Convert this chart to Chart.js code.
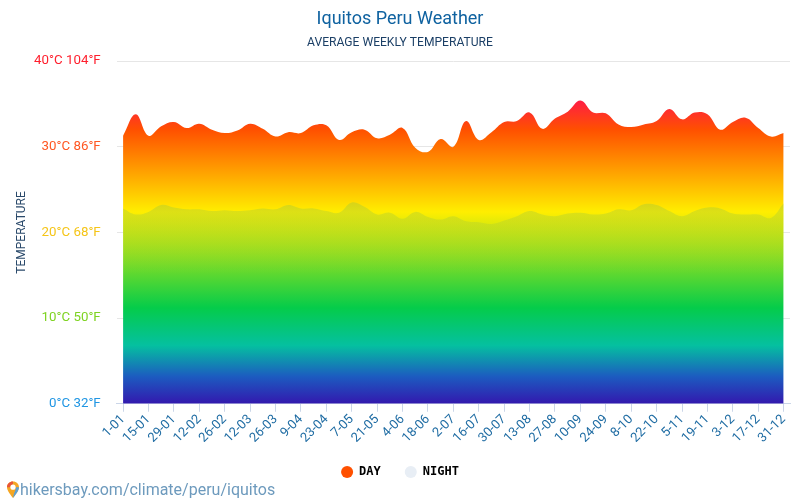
<!DOCTYPE html>
<html>
<head>
<meta charset="utf-8">
<script src="https://cdn.jsdelivr.net/npm/chart.js@4"></script>
<style>
html,body{margin:0;padding:0;background:#fff;overflow:hidden}
#wrap{position:relative;width:800px;height:500px}
#footer{position:absolute;left:20px;top:480px;font:16px Roboto,sans-serif;color:#6d9abd;line-height:20px;white-space:nowrap}
#pin{position:absolute;left:6px;top:481px}
</style>
</head>
<body>
<div id="wrap">
<canvas id="myChart" width="800" height="500"></canvas>
<svg id="pin" width="14" height="18" viewBox="0 0 14 18"><path d="M7 0.5C3.4 0.5 1 3 1 6.2 1 10 5 14 7 17 9 14 13 10 13 6.2 13 3 10.6 0.5 7 0.5Z" fill="#f5a623"/><path d="M1 6.2C1 3 3.4 .5 7 .5L7 3.5C5.4 3.5 4 4.7 4 6.2Z" fill="#e8553a"/><circle cx="7" cy="6.2" r="2.6" fill="#fff"/><path d="M7 17C9 14 13 10 13 6.2L10 6.2C10 9 8 11 7 17Z" fill="#5aa0d8"/></svg>
<div id="footer">hikersbay.com/climate/peru/iquitos</div>
</div>
<script>
const weeks = ['1-01','8-01','15-01','22-01','29-01','5-02','12-02','19-02','26-02','5-03','12-03','19-03','26-03','2-04','9-04','16-04','23-04','30-04','7-05','14-05','21-05','28-05','4-06','11-06','18-06','25-06','2-07','9-07','16-07','23-07','30-07','6-08','13-08','20-08','27-08','3-09','10-09','17-09','24-09','1-10','8-10','15-10','22-10','29-10','5-11','12-11','19-11','26-11','3-12','10-12','17-12','24-12','31-12'];
const dayTemps = [31.3,33.8,31.3,32.4,32.9,32.2,32.7,32.0,31.6,31.9,32.7,32.1,31.2,31.7,31.6,32.5,32.5,30.8,31.7,32.0,31.0,31.4,32.2,29.9,29.4,30.9,30.0,33.0,30.8,31.7,32.9,33.0,34.0,32.1,33.3,34.1,35.4,34.0,33.9,32.6,32.3,32.6,33.0,34.4,33.2,34.0,33.8,32.0,32.9,33.4,32.2,31.2,31.6];
const nightTemps = [22.8,22.1,22.4,23.2,22.9,22.7,22.7,22.5,22.6,22.5,22.6,22.8,22.7,23.2,22.8,22.8,22.5,22.3,23.5,23.0,22.1,22.3,21.6,22.4,21.8,21.5,21.9,21.3,21.2,21.0,21.4,21.9,22.5,22.1,21.9,22.2,22.3,22.1,22.2,22.7,22.6,23.3,23.2,22.5,21.9,22.5,22.9,22.8,22.2,22.1,22.1,21.7,23.4];
const yLabels = {0:'0°C 32°F',10:'10°C 50°F',20:'20°C 68°F',30:'30°C 86°F',40:'40°C 104°F'};
const yColors = {0:'#2196e3',10:'#7ed321',20:'#f5c518',30:'#ff5722',40:'#ff1f2d'};

// rainbow from top of the axis (40) to the bottom (0)
function rainbow(chart){
	const a = chart.chartArea;
	const g = chart.ctx.createLinearGradient(0, a.top, 0, a.bottom);
	g.addColorStop(0, '#ff0a60');
	g.addColorStop(0.12, '#ff2040');
	g.addColorStop(0.2, '#ff5000');
	g.addColorStop(0.44, '#ffee00');
	g.addColorStop(0.72, '#05cc4a');
	g.addColorStop(0.83, '#05c0a0');
	g.addColorStop(0.92, '#1c5cc0');
	g.addColorStop(1, '#3318ae');
	return g;
}

// night only tints the top of its area, then fades out
function nightFade(chart){
	const a = chart.chartArea;
	const g = chart.ctx.createLinearGradient(0, a.top, 0, a.bottom);
	g.addColorStop(0.42, 'rgba(160,200,60,0.4)');
	g.addColorStop(0.62, 'rgba(160,200,60,0)');
	return g;
}

const myChart = new Chart(document.getElementById('myChart'), {
	type: 'line',
	data: {
		labels: weeks,
		datasets: [{
			label: 'DAY',
			data: dayTemps,
			order: 2,
			fill: 'origin',
			borderWidth: 0,
			pointRadius: 0,
			tension: 0.4,
			backgroundColor: c => c.chart.chartArea ? rainbow(c.chart) : '#ff5000'
		},{
			label: 'NIGHT',
			data: nightTemps,
			order: 1,
			fill: 'origin',
			borderWidth: 0,
			pointRadius: 0,
			tension: 0.4,
			backgroundColor: c => c.chart.chartArea ? nightFade(c.chart) : '#e8eef5'
		}]
	},
	options: {
		responsive: false,
		animation: false,
		layout: {padding: {left: 10, right: 10, top: 8, bottom: 12}},
		plugins: {
			title: {display: true, text: 'Iquitos Peru Weather', color: '#0f62a0', font: {family: 'Roboto', size: 18, weight: 'normal'}, padding: {top: 1, bottom: 5}},
			subtitle: {display: true, text: 'AVERAGE WEEKLY TEMPERATURE', color: '#1b3f66', font: {family: 'Roboto', size: 12.1}, padding: {bottom: 11}},
			legend: {
				position: 'bottom',
				labels: {
					usePointStyle: true,
					pointStyle: 'circle',
					boxWidth: 12,
					boxHeight: 8.5,
					padding: 24,
					color: '#1f3350',
					font: {family: 'DejaVu Sans Mono', size: 12, weight: 'bold'},
					generateLabels: () => [
						{text: 'DAY', fillStyle: '#ff5000', strokeStyle: '#ff5000', pointStyle: 'circle', lineWidth: 0, datasetIndex: 0},
						{text: 'NIGHT', fillStyle: '#e8eef5', strokeStyle: '#e8eef5', pointStyle: 'circle', lineWidth: 0, datasetIndex: 1}
					]
				}
			},
			tooltip: {enabled: false}
		},
		scales: {
			x: {
				offset: true,
				afterBuildTicks: axis => { axis.ticks = axis.ticks.filter((t, i) => i % 2 == 0); },
				afterFit: s => { s.height -= 4; },
				grid: {offset: false, drawOnChartArea: false, drawTicks: true, tickLength: 8, color: '#cbd6e8'},
				border: {color: '#cbd6e8'},
				ticks: {autoSkip: false, minRotation: 45, maxRotation: 45, padding: 0, color: '#1f6ca3', font: {family: 'Roboto', size: 13}}
			},
			y: {
				min: 0,
				max: 40,
				afterFit: s => { s.width = 106.7; },
				title: {display: true, text: 'TEMPERATURE', color: '#2b4a6b', font: {family: 'Roboto', size: 12}, padding: {top: 5, bottom: 4}},
				grid: {color: '#e6e6e6', drawTicks: false},
				border: {display: false},
				ticks: {
					stepSize: 10,
					padding: 16,
					font: {family: 'Roboto', size: 13.3},
					color: c => yColors[c.tick.value],
					callback: v => yLabels[v]
				}
			}
		}
	}
});
</script>
</body>
</html>
